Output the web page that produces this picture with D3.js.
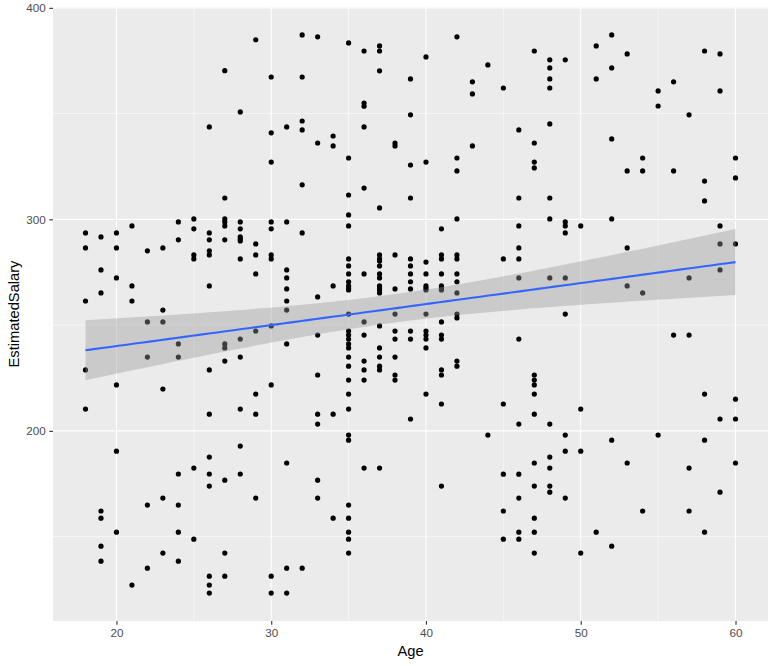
<!DOCTYPE html>
<html>
<head>
<meta charset="utf-8">
<script src="https://cdn.jsdelivr.net/npm/d3@7"></script>
<style>
  body { margin: 0; background: #ffffff; }
  text { font-family: "Liberation Sans", Arial, sans-serif; }
</style>
</head>
<body>
<svg id="chart" width="775" height="666"></svg>
<script>
// ages present in the data (one column of points per age)
const ages = [18, 19, 20, 21, 22, 23, 24, 25, 26, 27, 28, 29, 30, 31, 32, 33, 34, 35, 36, 37, 38, 39,
  40, 41, 42, 43, 44, 45, 46, 47, 48, 49, 50, 51, 52, 53, 54, 55, 56, 57, 58, 59, 60];

// estimated salary values, one list per age above
const salaries = [
  [293.6, 286.5, 261.4, 228.8, 210.3],
  [291.7, 276.1, 265.2, 162.1, 158.7, 145.5, 138.4],
  [293.6, 286.5, 272.3, 221.7, 190.4, 152.1],
  [296.9, 268.5, 261.4, 127.1],
  [285.1, 251.5, 234.9, 164.9, 135.1],
  [286.5, 257.1, 251.5, 219.8, 168.2, 142.2],
  [298.8, 290.3, 241.1, 234.9, 179.6, 164.9, 152.1, 138.4],
  [300.2, 295.5, 283.2, 281.3, 182.4, 148.8],
  [343.7, 293.6, 290.3, 285.1, 283.2, 268.5, 228.8, 207.9, 187.6, 179.6, 173.9, 131.3, 127.1, 123.3],
  [370.3, 310.1, 300.2, 298.8, 296.9, 290.3, 241.1, 239.2, 233.0, 176.7, 142.2, 131.3],
  [350.8, 298.8, 295.5, 291.7, 290.7, 289.8, 281.3, 243.4, 234.9, 210.3, 192.8, 179.6],
  [384.9, 288.4, 283.2, 274.2, 247.2, 217.4, 207.9, 168.2],
  [367.3, 340.9, 327.1, 298.8, 295.5, 283.2, 281.3, 249.6, 221.7, 131.3, 123.3],
  [343.7, 298.8, 276.1, 272.3, 267.1, 261.4, 257.1, 241.1, 184.8, 135.1, 123.3],
  [387.2, 367.3, 346.5, 342.3, 316.3, 293.6, 135.1],
  [386.3, 336.1, 263.3, 245.3, 226.4, 207.9, 203.2, 176.7, 168.2],
  [339.4, 334.7, 268.5, 207.9, 158.7],
  [383.4, 329.0, 311.5, 302.1, 296.9, 281.3, 278.0, 274.2, 270.5, 268.5, 267.5, 266.6, 255.2, 247.2, 245.3,
   243.4, 241.1, 239.2, 234.9, 230.6, 224.0, 217.4, 210.3, 198.0, 195.6, 164.9, 158.7, 152.1, 148.8, 142.2],
  [379.6, 355.0, 353.5, 343.7, 314.8, 274.2, 251.5, 245.3, 233.0, 228.8, 224.0, 182.4],
  [382.0, 379.6, 370.2, 305.4, 283.2, 281.3, 280.3, 278.0, 274.2, 272.3, 268.5, 267.5, 266.6, 265.2, 249.6,
   239.2, 234.9, 230.6, 228.8, 182.4],
  [336.1, 334.7, 283.2, 267.1, 255.2, 247.2, 243.4, 234.9, 226.4, 224.0],
  [366.4, 349.4, 325.7, 310.1, 281.3, 278.0, 274.2, 270.5, 267.1, 247.2, 243.4, 205.6],
  [376.8, 327.1, 279.8, 274.2, 268.5, 267.5, 266.6, 255.2, 247.2, 245.3, 243.4, 239.2, 217.4],
  [295.5, 283.2, 281.3, 274.2, 268.5, 267.5, 266.6, 251.5, 245.3, 243.4, 228.8, 226.4, 212.7, 173.9],
  [386.3, 329.0, 322.9, 300.2, 283.2, 281.3, 274.2, 270.5, 265.2, 255.2, 253.4, 233.0, 230.6],
  [365.0, 359.3, 334.7],
  [373.0, 198.0],
  [362.1, 281.3, 212.7, 179.5, 162.1, 148.8],
  [342.3, 310.1, 296.9, 286.5, 281.3, 272.3, 243.4, 203.2, 179.5, 168.2, 152.1, 148.8],
  [379.6, 336.1, 327.1, 324.3, 226.4, 224.0, 221.7, 217.4, 207.9, 184.8, 173.9, 158.7, 152.1, 142.2],
  [375.4, 371.6, 366.4, 362.1, 345.1, 310.1, 300.2, 272.3, 203.2, 187.6, 182.4, 173.9, 171.0],
  [375.4, 298.8, 296.9, 293.6, 272.3, 255.2, 198.0, 190.4, 168.2],
  [296.9, 210.3, 190.4, 142.2],
  [382.0, 366.4, 152.1],
  [387.2, 371.6, 338.0, 300.2, 195.6, 145.5],
  [378.2, 322.9, 286.5, 268.5, 184.8],
  [329.0, 322.9, 265.2, 162.1],
  [360.7, 353.6, 198.0],
  [365.0, 322.9, 245.3],
  [349.4, 272.3, 245.3, 182.4, 162.1],
  [379.6, 318.1, 308.7, 217.4, 195.6, 152.1],
  [378.2, 360.7, 296.9, 288.4, 276.1, 205.6, 171.0],
  [329.0, 319.6, 288.4, 215.0, 205.6, 184.8]
];

const xMajor = [20, 30, 40, 50, 60];
const xMinor = [25, 35, 45, 55];
const yMajor = [200, 300, 400];
const yMinor = [150, 250, 350];

// flatten to points
const points = [];
ages.forEach((a, i) => salaries[i].forEach(s => points.push({ age: a, salary: s })));

const svg = d3.select("#chart");
const margin = { left: 53, right: 7, top: 7, bottom: 45 };
const width = +svg.attr("width");
const height = +svg.attr("height");

// ggplot style 5% expansion
function expand(ext) {
  const d = (ext[1] - ext[0]) * 0.05;
  return [ext[0] - d, ext[1] + d];
}

const x = d3.scaleLinear()
  .domain(expand(d3.extent(points, d => d.age)))
  .range([margin.left, width - margin.right]);

const y = d3.scaleLinear()
  .domain(expand(d3.extent(points, d => d.salary)))
  .range([height - margin.bottom, margin.top]);

const x0 = margin.left, x1 = width - margin.right;
const y0 = margin.top, y1 = height - margin.bottom;

// panel background
svg.append("rect")
  .attr("x", x0).attr("y", y0)
  .attr("width", x1 - x0).attr("height", y1 - y0)
  .attr("fill", "#EBEBEB");

// grid lines
const grid = svg.append("g");
grid.selectAll(".xminor").data(xMinor).join("line")
  .attr("x1", d => x(d)).attr("x2", d => x(d)).attr("y1", y0).attr("y2", y1)
  .attr("stroke", "#fff").attr("stroke-width", 0.55);
grid.selectAll(".yminor").data(yMinor.filter(v => y(v) > y0)).join("line")
  .attr("y1", d => y(d)).attr("y2", d => y(d)).attr("x1", x0).attr("x2", x1)
  .attr("stroke", "#fff").attr("stroke-width", 0.55);
grid.selectAll(".xmajor").data(xMajor).join("line")
  .attr("x1", d => x(d)).attr("x2", d => x(d)).attr("y1", y0).attr("y2", y1)
  .attr("stroke", "#fff").attr("stroke-width", 1.1);
grid.selectAll(".ymajor").data(yMajor).join("line")
  .attr("y1", d => y(d)).attr("y2", d => y(d)).attr("x1", x0).attr("x2", x1)
  .attr("stroke", "#fff").attr("stroke-width", 1.1);

// points
svg.append("g").selectAll("circle")
  .data(points)
  .join("circle")
  .attr("cx", d => x(d.age))
  .attr("cy", d => y(d.salary))
  .attr("r", 2.6)
  .attr("fill", "#000");

// --- linear fit with 95% band (like geom_smooth(method = "lm")) ---
const n = points.length;
const mx = d3.mean(points, d => d.age);
const my = d3.mean(points, d => d.salary);
const sxx = d3.sum(points, d => (d.age - mx) ** 2);
const sxy = d3.sum(points, d => (d.age - mx) * (d.salary - my));
const slope = sxy / sxx;
const intercept = my - slope * mx;
const rss = d3.sum(points, d => (d.salary - intercept - slope * d.age) ** 2);
const sigma = Math.sqrt(rss / (n - 2));
const df = n - 2;
const z = 1.959964;
const tq = z + (z ** 3 + z) / (4 * df) + (5 * z ** 5 + 16 * z ** 3 + 3 * z) / (96 * df * df);

const [amin, amax] = d3.extent(points, d => d.age);
const fit = d3.range(80).map(i => {
  const a = amin + (amax - amin) * i / 79;
  const yhat = intercept + slope * a;
  const se = sigma * Math.sqrt(1 / n + (a - mx) ** 2 / sxx);
  return { age: a, fit: yhat, lo: yhat - tq * se, hi: yhat + tq * se };
});

svg.append("path")
  .datum(fit)
  .attr("d", d3.area().x(d => x(d.age)).y0(d => y(d.lo)).y1(d => y(d.hi)))
  .attr("fill", "#999999")
  .attr("fill-opacity", 0.4);

svg.append("path")
  .datum(fit)
  .attr("d", d3.line().x(d => x(d.age)).y(d => y(d.fit)))
  .attr("fill", "none")
  .attr("stroke", "#3366FF")
  .attr("stroke-width", 2.1);

// axes
const xAxis = svg.append("g")
  .attr("transform", `translate(0,${y1})`)
  .call(d3.axisBottom(x).tickValues(xMajor).tickSize(3.7).tickPadding(3.5).tickFormat(d3.format("d")));
const yAxis = svg.append("g")
  .attr("transform", `translate(${x0},0)`)
  .call(d3.axisLeft(y).tickValues(yMajor).tickSize(3.7).tickPadding(3.5).tickFormat(d3.format("d")));

[xAxis, yAxis].forEach(g => {
  g.select(".domain").remove();
  g.selectAll(".tick line").attr("stroke", "#333333").attr("stroke-width", 1.1);
  g.selectAll(".tick text")
    .attr("fill", "#4D4D4D")
    .style("font-size", "11.7px")
    .style("font-family", "'Liberation Sans', Arial, sans-serif");
});

// axis titles
svg.append("text")
  .attr("x", (x0 + x1) / 2)
  .attr("y", 656)
  .attr("text-anchor", "middle")
  .style("font-size", "14.7px")
  .attr("fill", "#000")
  .text("Age");

svg.append("text")
  .attr("transform", `translate(19,${(y0 + y1) / 2}) rotate(-90)`)
  .attr("text-anchor", "middle")
  .style("font-size", "14.7px")
  .attr("fill", "#000")
  .text("EstimatedSalary");
</script>
</body>
</html>
